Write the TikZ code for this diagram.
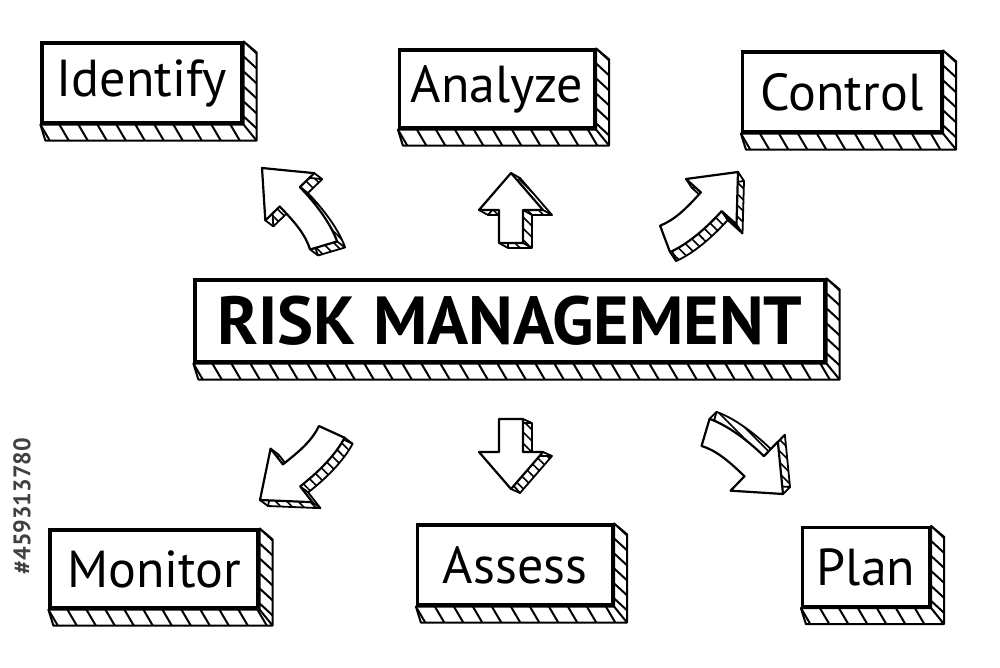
\documentclass[tikz,border=0pt]{standalone}
\usepackage{fontspec}
\setmainfont{PT Sans}
\usetikzlibrary{positioning,calc,backgrounds,patterns.meta}

\tikzset{
	riskbox/.style={draw, line width=3.2pt, fill=white, inner sep=0pt,
		font=\fontsize{52}{54}\selectfont},
	sideface/.style={draw, line width=2pt, line join=round, fill=white},
	hatchline/.style={line width=2pt},
	arrowface/.style={draw, line width=2.2pt, line join=round, fill=white},
	arrowside/.style={draw, line width=1.8pt, line join=round, preaction={fill=white},
		pattern={Lines[angle=-45,distance=8pt,line width=1.6pt]}},
	arrowedge/.style={line width=1.8pt},
	pics/shortarrow/.style={code={
		\coordinate (-p1) at (0,0);   \coordinate (-p2) at (32,37);
		\coordinate (-p3) at (12,37); \coordinate (-p4) at (12,70);
		\coordinate (-p5) at (-12,70); \coordinate (-p6) at (-12,37);
		\coordinate (-p7) at (-32,37);
		\path[#1] (-p1) -- (-p2) -- (-p3) -- (-p4) -- (-p5) -- (-p6) -- (-p7) -- cycle;
	}},
	pics/bentarrow/.style={code={
		\coordinate (-p1) at (0,0);   \coordinate (-p2) at (34,40);
		\coordinate (-p3) at (14,40); \coordinate (-p4) at (22,92);
		\coordinate (-p5) at (-3,105); \coordinate (-p6) at (-14,40);
		\coordinate (-p7) at (-34,40);
		\path[#1] (-p1) -- (-p2) -- (-p3) .. controls (14,62) and (15,78) .. (-p4)
		-- (-p5) .. controls (-9,92) and (-14,70) .. (-p6) -- (-p7) -- cycle;
	}},
}

\begin{document}
\begin{tikzpicture}[x=1pt,y=-1pt]
	\useasboundingbox (0,0) rectangle (1000,667);
	% boxes
	\node[riskbox, minimum width=200pt, minimum height=80pt] (identify) at (142,83) {Identify};
	\node[riskbox, minimum width=195pt, minimum height=78pt] (analyze) at (497,89) {Analyze};
	\node[riskbox, minimum width=199pt, minimum height=80pt] (control) at (842,92) {Control};
	\node[riskbox, minimum width=630pt, minimum height=82pt, font=\fontsize{68}{70}\selectfont\bfseries] (risk) at (510,321) {RISK MANAGEMENT};
	\node[riskbox, minimum width=208pt, minimum height=78pt] (monitor) at (154,569) {Monitor};
	\node[riskbox, minimum width=195pt, minimum height=80pt] (assess) at (515,565) {Assess};
	\node[riskbox, minimum width=127pt, minimum height=79pt] (plan) at (866,567) {Plan};
	\begin{scope}[on background layer]
		\foreach \b in {identify,analyze,control,risk,monitor,assess,plan} {
			\path[sideface] (\b.south west) -- (\b.south east) -- (\b.north east) -- ++(13,11)
			-- ($(\b.south east)+(13,16)$) -- ($(\b.south west)+(5,16)$) -- cycle;
			\begin{scope}
				\clip (\b.south west) -- (\b.south east) -- ($(\b.south east)+(13,16)$) -- ($(\b.south west)+(5,16)$) -- cycle;
				\foreach \k in {0,19,...,700}
					\draw[hatchline] ($(\b.south west)+(\k,0)$) -- ++(10,17);
			\end{scope}
			\begin{scope}
				\clip (\b.south east) -- (\b.north east) -- ++(13,11) -- ($(\b.south east)+(13,16)$) -- cycle;
				\foreach \k in {0,15,...,105}
					\draw[hatchline] ($(\b.north east)+(0,\k)$) -- ++(13,12);
			\end{scope}
			\draw[line width=2pt] (\b.south east) -- ++(13,16);
		}
	\end{scope}
	% arrows
	\coordinate (tipA) at (262,168);
	\coordinate (tipB) at (511,173);
	\coordinate (tipC) at (738,172);
	\coordinate (tipD) at (260,500);
	\coordinate (tipE) at (511,489);
	\coordinate (tipF) at (783,494);
	% up left
	\pic[rotate=44, xscale=-1] (backA) at ($(tipA)+(8,6)$) {bentarrow=arrowside};
	\foreach \i in {1,...,7} \draw[arrowedge] (backA-p\i) -- ++(-8,-6);
	\pic[rotate=44, xscale=-1] at (tipA) {bentarrow=arrowface};
	% up
	\pic (backB) at ($(tipB)+(9,5)$) {shortarrow=arrowside};
	\foreach \i in {1,...,7} \draw[arrowedge] (backB-p\i) -- ++(-9,-5);
	\pic at (tipB) {shortarrow=arrowface};
	% up right
	\pic[rotate=-42, xscale=-1] (backC) at ($(tipC)+(6,9)$) {bentarrow=arrowside};
	\foreach \i in {1,...,7} \draw[arrowedge] (backC-p\i) -- ++(-6,-9);
	\pic[rotate=-42, xscale=-1] at (tipC) {bentarrow=arrowface};
	% down left
	\pic[rotate=128] (backD) at ($(tipD)+(8,6)$) {bentarrow=arrowside};
	\foreach \i in {1,...,7} \draw[arrowedge] (backD-p\i) -- ++(-8,-6);
	\pic[rotate=128] at (tipD) {bentarrow=arrowface};
	% down
	\pic[rotate=180] (backE) at ($(tipE)+(9,4)$) {shortarrow=arrowside};
	\foreach \i in {1,...,7} \draw[arrowedge] (backE-p\i) -- ++(-9,-4);
	\pic[rotate=180] at (tipE) {shortarrow=arrowface};
	% down right
	\pic[rotate=-134] (backF) at ($(tipF)+(7,-7)$) {bentarrow=arrowside};
	\foreach \i in {1,...,7} \draw[arrowedge] (backF-p\i) -- ++(-7,7);
	\pic[rotate=-134] at (tipF) {bentarrow=arrowface};
	% stock id
	\node[rotate=90, text=black!75, font=\fontsize{24}{24}\selectfont\bfseries] (stockid) at (22,506) {\#459313780};
\end{tikzpicture}
\end{document}
